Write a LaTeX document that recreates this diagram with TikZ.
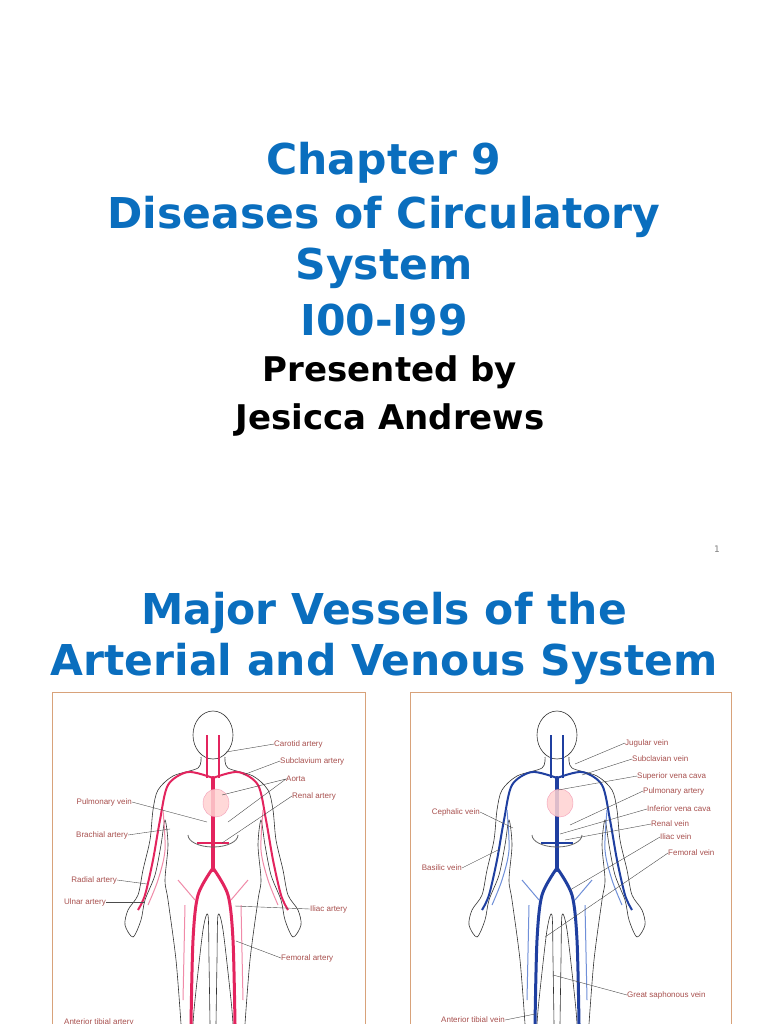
\documentclass[tikz,border=0pt]{standalone}
\usepackage{fontspec}
\setmainfont{DejaVu Sans}
\newfontfamily\lab{Liberation Sans}
\definecolor{ttl}{HTML}{0A6EBE}
\definecolor{lbl}{HTML}{A8504E}
\definecolor{art}{HTML}{E3245E}
\definecolor{artl}{HTML}{F08AA8}
\definecolor{ven}{HTML}{1F3FA0}
\definecolor{venl}{HTML}{6F8FD8}
\definecolor{frm}{HTML}{D8A27A}
\begin{document}
\begin{tikzpicture}[x=1pt,y=-1pt,
  title/.style={font=\bfseries\fontsize{42.5}{46}\selectfont, text=ttl, inner sep=0},
  sub/.style={font=\bfseries\fontsize{34}{38}\selectfont, inner sep=0},
  lab/.style={font=\lab\fontsize{8}{9}\selectfont, text=lbl, inner sep=0},
  lead/.style={draw=black!70, line width=0.4pt},
  outline/.style={draw=black!80, line width=0.6pt},
  frame/.style={draw=frm, line width=0.8pt}]
\useasboundingbox (0,0) rectangle (768,1024);
\fill[white] (0,0) rectangle (768,1024);
% slide 1
\node[title] (t1) at (384,163) {Chapter 9};
\node[title] (t2) at (384,217) {Diseases of Circulatory};
\node[title] (t3) at (384,268) {System};
\node[title] (t4) at (384,320) {I00-I99};
\node[sub] (p1) at (390,372) {Presented by};
\node[sub] (p2) at (390,420) {Jesicca Andrews};
\node[font=\fontsize{9}{10}\selectfont, text=black!50] (pg) at (717,549) {1};
% slide 2
\node[title] (t5) at (384,613) {Major Vessels of the};
\node[title] (t6) at (384,664) {Arterial and Venous System};
\draw[frame] (52,1030) |- (365,692) -- (365,1030);
\draw[frame] (410,1030) |- (731,692) -- (731,1030);
% bodies
\foreach \cx/\main/\light in {213/art/artl, 557/ven/venl}{
\begin{scope}[xshift=\cx]
 \draw[outline] (0,735) ellipse (20 and 24);
 \draw[outline] plot[smooth] coordinates {(-3,1024)(-4,960)(-5,915)(-10,930)(-18,1000)(-20,1024)};
 \draw[outline] plot[smooth] coordinates {(3,1024)(4,960)(5,915)(10,930)(18,1000)(20,1024)};
 \draw[outline] plot[smooth] coordinates {(-32,1024)(-37,960)(-45,900)(-48,880)(-45,845)(-48,820)(-52,845)(-58,875)(-68,900)(-72,920)(-80,937)(-88,925)(-85,910)(-75,895)(-70,870)(-63,840)(-60,810)(-55,790)(-40,776)(-15,768)(-12,757)};
 \draw[outline] plot[smooth] coordinates {(32,1024)(37,960)(45,900)(48,880)(45,845)(48,820)(52,845)(58,875)(68,900)(72,920)(80,937)(88,925)(85,910)(75,895)(70,870)(63,840)(60,810)(55,790)(40,776)(15,768)(12,757)};
 % main vessels
 \draw[\main, line width=4pt, line cap=round] (0,778) -- (0,870);
 \draw[\main, line width=3pt] plot[smooth] coordinates {(0,868)(-15,895)(-20,940)(-22,1024)};
 \draw[\main, line width=3pt] plot[smooth] coordinates {(0,868)(15,895)(20,940)(22,1024)};
 \draw[\main, line width=2pt] plot[smooth] coordinates {(0,778)(-25,772)(-45,785)(-53,820)(-60,860)(-68,895)(-75,910)};
 \draw[\main, line width=2pt] plot[smooth] coordinates {(0,778)(25,772)(45,785)(53,820)(60,860)(68,895)(75,910)};
 \draw[\main, line width=1.5pt] (-6,778) -- (-6,735);
 \draw[\main, line width=1.5pt] (6,778) -- (6,735);
 \draw[\main, line width=1.5pt] (-16,843) -- (16,843);
 % light branches
 \draw[\light, line width=1pt] plot[smooth] coordinates {(-50,810)(-48,850)(-55,880)(-65,905)};
 \draw[\light, line width=1pt] plot[smooth] coordinates {(50,810)(48,850)(55,880)(65,905)};
 \draw[\light, line width=1pt] (-18,900) -- (-35,880) (18,900) -- (35,880);
 \draw[\light, line width=1pt] (-28,905) -- (-30,1000) (28,905) -- (30,1000);
 \fill[pink!70, draw=art!50, opacity=0.85] (3,803) ellipse (13 and 14);
 \draw[black!60, line width=0.8pt] (-25,835) arc (180:0:25 and 12);
\end{scope}}
% arterial labels
\node[lab, anchor=west] (ca) at (274,744) {Carotid artery};
\coordinate (ca0) at (226,752); \draw[lead] (ca0) -- (ca.west);
\node[lab, anchor=west] (sa) at (280,761) {Subclavium artery};
\coordinate (sa0) at (243,775); \draw[lead] (sa0) -- (sa.west);
\node[lab, anchor=west] (ao) at (286,779) {Aorta};
\coordinate (ao0) at (222,795); \coordinate (ao1) at (228,822);
\draw[lead] (ao0) -- (ao.west) -- (ao1);
\node[lab, anchor=west] (ra) at (292,796) {Renal artery};
\coordinate (ra0) at (222,843); \draw[lead] (ra0) -- (ra.west);
\node[lab, anchor=east] (pv) at (132,802) {Pulmonary vein};
\coordinate (pv0) at (207,822); \draw[lead] (pv.east) -- (pv0);
\node[lab, anchor=east] (ba) at (128,835) {Brachial artery};
\coordinate (ba0) at (170,829); \draw[lead] (ba.east) -- (ba0);
\node[lab, anchor=east] (rd) at (117,880) {Radial artery};
\coordinate (rd0) at (147,884); \draw[lead] (rd.east) -- (rd0);
\node[lab, anchor=east] (ua) at (106,902) {Ulnar artery};
\coordinate (ua0) at (145,902); \draw[lead] (ua.east) -- (ua0);
\node[lab, anchor=west] (ia) at (310,909) {Iliac artery};
\coordinate (ia0) at (235,906); \draw[lead] (ia0) -- (ia.west);
\node[lab, anchor=west] (fa) at (281,958) {Femoral artery};
\coordinate (fa0) at (236,941); \draw[lead] (fa0) -- (fa.west);
\node[lab, anchor=west] (at) at (64,1022) {Anterior tibial artery};
% venous labels
\node[lab, anchor=west] (jv) at (625,743) {Jugular vein};
\coordinate (jv0) at (575,764); \draw[lead] (jv0) -- (jv.west);
\node[lab, anchor=west] (sv) at (632,759) {Subclavian vein};
\coordinate (sv0) at (582,775); \draw[lead] (sv0) -- (sv.west);
\node[lab, anchor=west] (sc) at (637,776) {Superior vena cava};
\coordinate (sc0) at (558,790); \draw[lead] (sc0) -- (sc.west);
\node[lab, anchor=west] (pa) at (643,791) {Pulmonary artery};
\coordinate (pa0) at (570,825); \draw[lead] (pa0) -- (pa.west);
\node[lab, anchor=west] (ic) at (647,809) {Inferior vena cava};
\coordinate (ic0) at (560,834); \draw[lead] (ic0) -- (ic.west);
\node[lab, anchor=west] (rv) at (651,824) {Renal vein};
\coordinate (rv0) at (565,840); \draw[lead] (rv0) -- (rv.west);
\node[lab, anchor=west] (iv) at (660,837) {Iliac vein};
\coordinate (iv0) at (570,890); \draw[lead] (iv0) -- (iv.west);
\node[lab, anchor=west] (fv) at (668,853) {Femoral vein};
\coordinate (fv0) at (545,937); \draw[lead] (fv0) -- (fv.west);
\node[lab, anchor=east] (cv) at (480,812) {Cephalic vein};
\coordinate (cv0) at (513,828); \draw[lead] (cv.east) -- (cv0);
\node[lab, anchor=east] (bv) at (462,868) {Basilic vein};
\coordinate (bv0) at (500,849); \draw[lead] (bv.east) -- (bv0);
\node[lab, anchor=west] (gs) at (627,995) {Great saphonous vein};
\coordinate (gs0) at (553,975); \draw[lead] (gs0) -- (gs.west);
\node[lab, anchor=east] (tv) at (505,1020) {Anterior tibial vein};
\coordinate (tv0) at (535,1014); \draw[lead] (tv.east) -- (tv0);
\end{tikzpicture}
\end{document}
